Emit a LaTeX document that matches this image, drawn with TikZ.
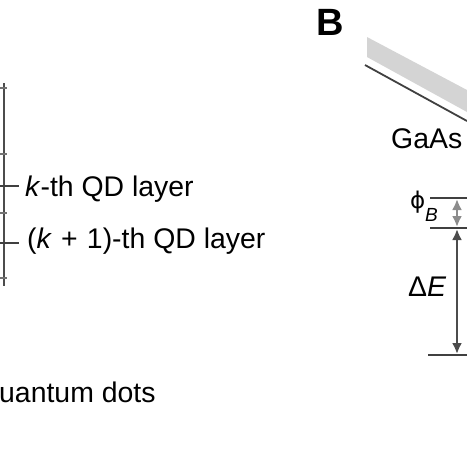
\documentclass[tikz,border=0pt]{standalone}
\usepackage{fontspec}
\setmainfont{Liberation Sans}
\newfontfamily\phifont{DejaVu Sans}
\usetikzlibrary{arrows.meta,positioning,calc}

\begin{document}
\begin{tikzpicture}[
  x=1pt, y=-1pt,
  >={Latex[length=11pt,width=10pt]},
  label/.style={inner sep=0pt, anchor=base west, font=\fontsize{28.4}{32}\selectfont},
  heading/.style={inner sep=0pt, anchor=base west, font=\fontsize{38}{44}\selectfont\bfseries},
  rail/.style={draw=black!70, line width=2.8pt},
  tick/.style={draw=black!55, line width=2.2pt},
  level/.style={draw=black!75, line width=1.8pt},
  band/.style={fill=black!17},
  gap/.style={<->, draw=black!70, line width=2.5pt}
]
\useasboundingbox (0,0) rectangle (467,467);

% left panel
\node[label] (kth) at (25,196.5) {\textit{k}-th QD layer};
\node[label] (kone) at (27,248.5) {(\textit{k}\kern1.3pt{} +\kern1.3pt{} 1)-th QD layer};
\node[label] (dots) at (-1,402) {uantum dots};

\coordinate (railtop) at (4,83);
\coordinate (railend) at (4,286);
\draw[rail] (railtop) -- (railend);
\foreach \y in {88,154,213,278} {
  \coordinate (tick\y) at (0,\y);
  \draw[tick] (tick\y) -- ++(7,0);
}
\coordinate (kleft) at (0,186);
\coordinate (kright) at (19,186);
\coordinate (oneleft) at (0,243);
\coordinate (oneright) at (19,243);
\draw[level] (kleft) -- (kright);
\draw[level] (oneleft) -- (oneright);

% right panel
\node[heading] (panelb) at (316,35) {B};
\node[label] (gaas) at (391,148) {GaAs};

\fill[band] (367,37) -- (467,90) -- (467,112) -- (367,57) -- cycle;
\coordinate (sheetl) at (365,65);
\coordinate (sheetr) at (467,121);
\draw[level] (sheetl) -- (sheetr);

\coordinate (phitopl) at (430,198);
\coordinate (phitopr) at (467,198);
\coordinate (phibotl) at (430,228);
\coordinate (phibotr) at (467,228);
\coordinate (basel) at (428,355);
\coordinate (baser) at (467,355);
\draw[level] (phitopl) -- (phitopr);
\draw[level] (phibotl) -- (phibotr);
\draw[level] (basel) -- (baser);

\draw[gap, draw=black!45] (457,199) -- (457,227);
\draw[gap] (457,229) -- (457,354);

\node[inner sep=0pt, anchor=base west, font=\fontsize{23}{26}\phifont] (phib) at (410,208) {\char"03D5};
\node[inner sep=0pt, anchor=base west, font=\fontsize{19}{22}\selectfont\itshape] (subb) at (425,221) {B};
\node[label] (deltae) at (408,296) {Δ\textit{E}};
\end{tikzpicture}
\end{document}
